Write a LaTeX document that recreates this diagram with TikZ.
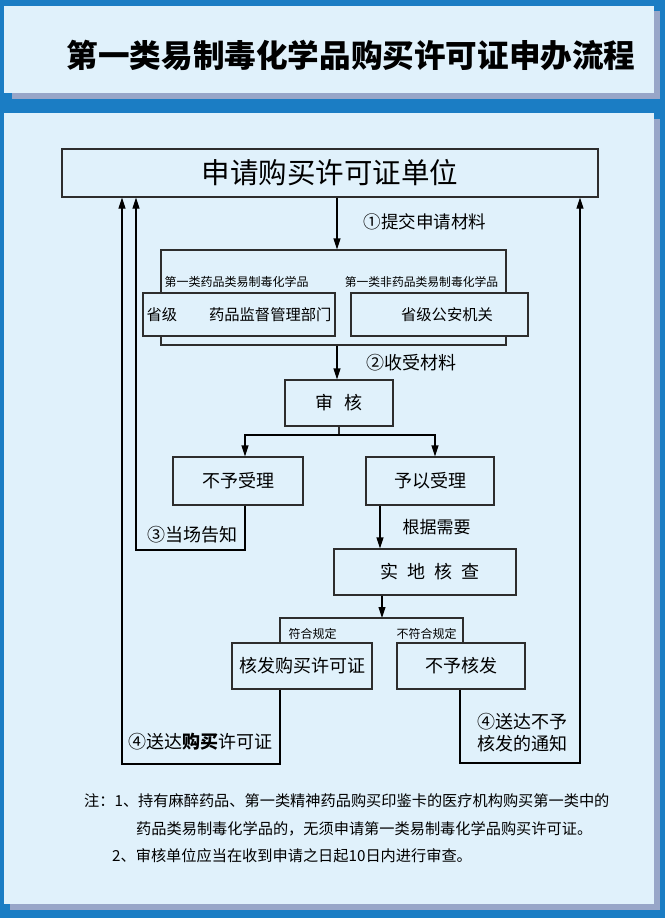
\documentclass[tikz,border=0pt]{standalone}
\usepackage{fontspec}
\setmainfont{Noto Sans CJK SC}
\usetikzlibrary{arrows.meta,calc}
\definecolor{bgblue}{RGB}{27,125,196}
\definecolor{panel}{RGB}{224,241,251}
\definecolor{shadowc}{RGB}{152,166,200}
\definecolor{linec}{RGB}{45,45,45}
\newcommand\fsz[1]{\fontsize{#1pt}{#1pt}\selectfont}
\begin{document}
\begin{tikzpicture}[x=1pt,y=-1pt,
  box/.style={draw=linec,line width=1.1pt,fill=panel,inner sep=0pt,font=\fsz{18}},
  arr/.style={draw=black,line width=1.1pt,-{Triangle[length=11pt,width=7pt]}},
  ln/.style={draw=linec,line width=1.1pt},
  lbl/.style={inner sep=0pt,font=\fsz{18}},
  small/.style={inner sep=0pt,font=\fsz{12}},
  note/.style={inner sep=0pt,anchor=west,font=\fsz{15.2}}]
\useasboundingbox (0,0) rectangle (665,918);
\fill[bgblue] (0,0) rectangle (665,918);
% panels
\fill[shadowc] (12,11) rectangle (660,99);
\fill[panel] (4,6) rectangle (654,93);
\fill[shadowc] (10,119) rectangle (660,910);
\fill[panel] (4,113) rectangle (654,904);
% title
\node[inner sep=0pt,font=\fsz{31.6}\bfseries] (title) at (351,55) {第一类易制毒化学品购买许可证申办流程};
% column coordinates
\coordinate (xm) at (337,0);
\coordinate (xl) at (245,0);
\coordinate (xr) at (435,0);
\coordinate (xn) at (380,0);
\coordinate (xv) at (382,0);
\coordinate (xq) at (460,0);
\coordinate (sp) at (339,435);
\coordinate (bl) at (280,618);
\coordinate (br) at (463,618);
\coordinate (c3) at (136,550);
\coordinate (c4) at (122,764);
\coordinate (c5) at (580,763);
% nodes
\node[box,minimum width=536pt,minimum height=48pt,font=\fsz{28.5}] (A) at (330,173) {申请购买许可证单位\hspace{13pt}};
\node[box,minimum width=345pt,minimum height=95pt] (G) at (333.5,297.5) {};
\node[box,minimum width=192pt,minimum height=43pt,font=\fsz{15.3}] (L) at (239,314.5) {省级\hspace{32pt}药品监督管理部门};
\node[box,minimum width=177pt,minimum height=43pt,font=\fsz{15.3}] (R) at (439.5,314.5) {\hspace{15pt}省级公安机关};
\node[small] (lg) at (236.5,282) {第一类药品类易制毒化学品};
\node[small,font=\fsz{11.8}] (lr) at (421.5,282) {第一类非药品类易制毒化学品};
\node[box,minimum width=108pt,minimum height=46pt] (S) at (339,403) {审\hspace{11pt}核};
\node[box,minimum width=130pt,minimum height=48pt] (N1) at (238,481) {不予受理};
\node[box,minimum width=128pt,minimum height=48pt] (N2) at (430,481) {予以受理};
\node[box,minimum width=182pt,minimum height=46pt] (V) at (425,572) {\hspace{10pt}实\hspace{9pt}地\hspace{9pt}核\hspace{9pt}查};
\node[box,minimum width=140pt,minimum height=46pt] (P) at (302,666) {核发购买许可证};
\node[box,minimum width=128pt,minimum height=46pt] (Q) at (461,666) {不予核发};
% labels
\node[lbl,font=\fsz{17.5}] (l1) at (425,222) {①提交申请材料};
\node[lbl] (l2) at (411.5,363) {②收受材料};
\node[lbl] (l3) at (192,535) {③当场告知};
\node[lbl,font=\fsz{17}] (l4) at (436.5,527) {根据需要};
\node[small] (l5) at (312.5,634) {符合规定};
\node[small] (l6) at (426.5,634) {不符合规定};
\node[lbl] (l7) at (200,742) {④送达{\bfseries 购买}许可证};
\node[lbl,align=center,font=\fontsize{18pt}{22pt}\selectfont] (l8) at (522,733) {④送达不予\\核发的通知};
% connectors
\draw[arr] (xm |- A.south) -- (xm |- G.north);
\draw[arr] (xm |- G.south) -- (xm |- S.north);
\draw[ln] (S.south) -- (sp);
\draw[arr] (sp) -| (xl |- N1.north);
\draw[arr] (sp) -| (xr |- N2.north);
\draw[arr] (xl |- N1.south) |- (c3) -- (c3 |- A.south);
\draw[arr] (xn |- N2.south) -- (xn |- V.north);
\draw[arr] (xv |- V.south) -- (xv |- bl);
\draw[ln] (bl |- P.north) -- (bl) -- (br) -- (br |- Q.north);
\draw[arr] (bl |- P.south) |- (c4) -- (c4 |- A.south);
\draw[arr] (xq |- Q.south) |- (c5) -- (c5 |- A.south);
% notes
\node[note] (n1) at (84,801) {注：1、持有麻醉药品、第一类精神药品购买印鉴卡的医疗机构购买第一类中的};
\node[note] (n2) at (136,829) {药品类易制毒化学品的，无须申请第一类易制毒化学品购买许可证。};
\node[note] (n3) at (112,856) {2、审核单位应当在收到申请之日起10日内进行审查。};
\end{tikzpicture}
\end{document}
